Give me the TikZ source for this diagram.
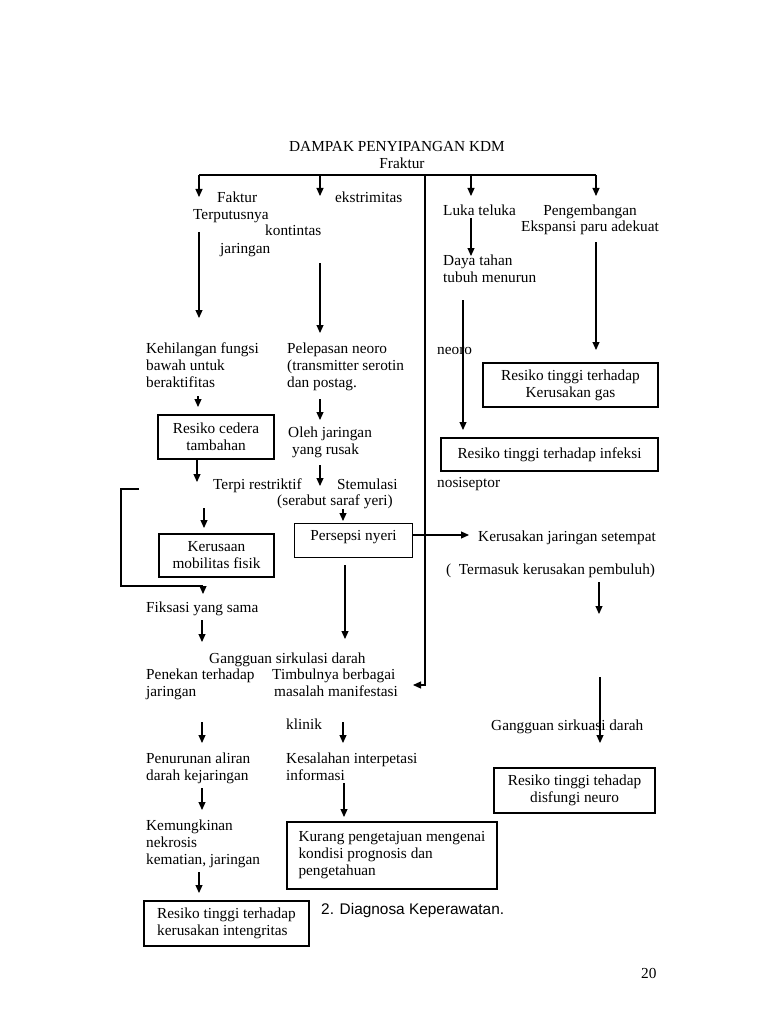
\documentclass[tikz,border=0pt]{standalone}
\usepackage{fontspec}
\setmainfont{Liberation Serif}
\newfontfamily\arialfont{Liberation Sans}
\usetikzlibrary{arrows.meta,positioning}

\begin{document}
\begin{tikzpicture}[x=1pt,y=-1pt]
	\tikzstyle{every node}+=[inner sep=0pt,font=\fontsize{15.3}{17}\selectfont]
	\tikzstyle{teks}=[anchor=base west,align=left,yshift=-2pt]
	\tikzstyle{kotak}=[draw,line width=1.1pt,align=center]
	\tikzstyle{garis}=[line width=1.1pt]
	\tikzstyle{panah}=[line width=1.1pt,-{Triangle[length=8pt,width=7pt]}]
	\useasboundingbox (0,0) rectangle (768,1024);
	\node [anchor=base,yshift=-2pt] (judul) at (397,150) {DAMPAK PENYIPANGAN KDM};
	\node [anchor=base,yshift=-2pt] (fraktur) at (402,167) {Fraktur};
	\node [teks] (faktur) at (217,201) {Faktur};
	\node [teks] (putus) at (193,217) {Terputusnya};
	\node [teks] (kontin) at (265,234) {kontintas};
	\node [teks] (jaring) at (220,251) {jaringan};
	\node [teks] (ekstr) at (335,201) {ekstrimitas};
	\node [teks] (luka) at (443,213) {Luka teluka};
	\node [anchor=base,align=center,yshift=-2pt] (kembang) at (590,230) {Pengembangan\\Ekspansi paru adekuat};
	\node [teks] (daya) at (443,280) {Daya tahan\\tubuh menurun};
	\node [teks] (neoro) at (437,352) {neoro};
	\node [teks] (hilang) at (146,385) {Kehilangan fungsi\\bawah untuk\\beraktifitas};
	\node [teks] (lepas) at (287,385) {Pelepasan neoro\\(transmitter serotin\\dan postag.};
	\node [teks] (oleh) at (288,452) {Oleh jaringan\\\hspace{4pt}yang rusak};
	\node [teks] (terpi) at (213,487) {Terpi restriktif};
	\node [teks] (stemul) at (337,487) {Stemulasi};
	\node [teks] (serabut) at (277,503) {(serabut saraf yeri)};
	\node [teks] (nosi) at (437,485) {nosiseptor};
	\node [teks] (fiksasi) at (146,610) {Fiksasi yang sama};
	\node [teks] (setempat) at (478,539) {Kerusakan jaringan setempat};
	\node [teks] (termasuk) at (446,572) {(\ \ Termasuk kerusakan pembuluh)};
	\node [teks] (sirk) at (209,661) {Gangguan sirkulasi darah};
	\node [teks] (tekan) at (146,694) {Penekan terhadap\\jaringan};
	\node [teks] (timbul) at (272,694) {Timbulnya berbagai\\\hspace{2pt}masalah manifestasi};
	\node [teks] (klinik) at (286,727) {klinik};
	\node [teks] (sirkuasi) at (491,728) {Gangguan sirkuasi darah};
	\node [teks] (turun) at (146,778) {Penurunan aliran\\darah kejaringan};
	\node [teks] (salah) at (286,778) {Kesalahan interpetasi\\informasi};
	\node [teks] (mungkin) at (146,862) {Kemungkinan\\nekrosis\\kematian, jaringan};
	\node [teks,font=\arialfont\fontsize{15.4}{17}\selectfont] (diagnosa) at (321,912) {2. Diagnosa Keperawatan.};
	\node [teks] (hal) at (641,976) {20};
	\node [kotak,minimum width=175,minimum height=44] (bGas) at (570.5,385) {Resiko tinggi terhadap\\Kerusakan gas};
	\node [kotak,minimum width=217,minimum height=33] (bInfeksi) at (549.5,454.5) {Resiko tinggi terhadap infeksi};
	\node [kotak,minimum width=116,minimum height=44] (bCedera) at (216,437) {Resiko cedera\\tambahan};
	\node [kotak,minimum width=115,minimum height=43] (bMobil) at (216.5,555.5) {Kerusaan\\mobilitas fisik};
	\node [kotak,anchor=north west,minimum width=118,inner ysep=4pt,text height=13pt,text depth=13pt] (bNyeri) at (294,523) {Persepsi nyeri};
	\node [kotak,minimum width=161,minimum height=45] (bNeuro) at (574.5,790.5) {Resiko tinggi tehadap\\disfungi neuro};
	\node [kotak,align=left,minimum width=210,minimum height=67] (bKurang) at (392,855.5) {Kurang pengetajuan mengenai\\kondisi prognosis dan\\pengetahuan};
	\node [kotak,align=left,minimum width=165,minimum height=45] (bIntegr) at (226.5,923.5) {Resiko tinggi terhadap\\kerusakan intengritas};
	\coordinate (atasKiri) at (199,175); \coordinate (atasKanan) at (596,175);
	\coordinate (c1) at (320,175); \coordinate (c2) at (471,175); \coordinate (c3) at (425,175);
	\coordinate (t0) at (199,197); \coordinate (t1) at (320,196);
	\coordinate (t2) at (471,196); \coordinate (t3) at (596,196);
	\coordinate (balik) at (413,685);
	\coordinate (k1a) at (199,232); \coordinate (k1b) at (199,318);
	\coordinate (k2a) at (320,263); \coordinate (k2b) at (320,333);
	\coordinate (k3a) at (471,218); \coordinate (k3b) at (471,256);
	\coordinate (k4a) at (463,300); \coordinate (k4b) at (463,430);
	\coordinate (k5a) at (596,242); \coordinate (k5b) at (596,350);
	\coordinate (k6a) at (198,396); \coordinate (k6b) at (198,407);
	\coordinate (k7a) at (320,399); \coordinate (k7b) at (320,420);
	\coordinate (k8a) at (197,459); \coordinate (k8b) at (197,482);
	\coordinate (k9a) at (320,465); \coordinate (k9b) at (320,486);
	\coordinate (k10a) at (204,508); \coordinate (k10b) at (204,528);
	\coordinate (k11a) at (343,509); \coordinate (k11b) at (343,521);
	\coordinate (kurung) at (139,489); \coordinate (kurungB) at (203,586); \coordinate (kurungC) at (203,594);
	\coordinate (k12a) at (412,535); \coordinate (k12b) at (469,535);
	\coordinate (k13a) at (599,582); \coordinate (k13b) at (599,614);
	\coordinate (k14a) at (345,565); \coordinate (k14b) at (345,639);
	\coordinate (k15a) at (202,620); \coordinate (k15b) at (202,642);
	\coordinate (k16a) at (600,677); \coordinate (k16b) at (600,743);
	\coordinate (k17a) at (202,722); \coordinate (k17b) at (202,743);
	\coordinate (k18a) at (343,722); \coordinate (k18b) at (343,743);
	\coordinate (k19a) at (202,788); \coordinate (k19b) at (202,810);
	\coordinate (k20a) at (344,783); \coordinate (k20b) at (344,817);
	\coordinate (k21a) at (199,872); \coordinate (k21b) at (199,893);
	\draw [garis] (atasKiri) -- (atasKanan);
	\draw [panah] (atasKiri) -- (t0);
	\draw [panah] (c1) -- (t1);
	\draw [panah] (c2) -- (t2);
	\draw [panah] (atasKanan) -- (t3);
	\draw [panah] (c3) |- (balik);
	\draw [panah] (k1a) -- (k1b);
	\draw [panah] (k2a) -- (k2b);
	\draw [panah] (k3a) -- (k3b);
	\draw [panah] (k4a) -- (k4b);
	\draw [panah] (k5a) -- (k5b);
	\draw [panah] (k6a) -- (k6b);
	\draw [panah] (k7a) -- (k7b);
	\draw [panah] (k8a) -- (k8b);
	\draw [panah] (k9a) -- (k9b);
	\draw [panah] (k10a) -- (k10b);
	\draw [panah] (k11a) -- (k11b);
	\draw [garis] (kurung) -- ++(-18,0) |- (kurungB);
	\draw [panah] (kurungB) -- (kurungC);
	\draw [panah] (k12a) -- (k12b);
	\draw [panah] (k13a) -- (k13b);
	\draw [panah] (k14a) -- (k14b);
	\draw [panah] (k15a) -- (k15b);
	\draw [panah] (k16a) -- (k16b);
	\draw [panah] (k17a) -- (k17b);
	\draw [panah] (k18a) -- (k18b);
	\draw [panah] (k19a) -- (k19b);
	\draw [panah] (k20a) -- (k20b);
	\draw [panah] (k21a) -- (k21b);
\end{tikzpicture}
\end{document}
